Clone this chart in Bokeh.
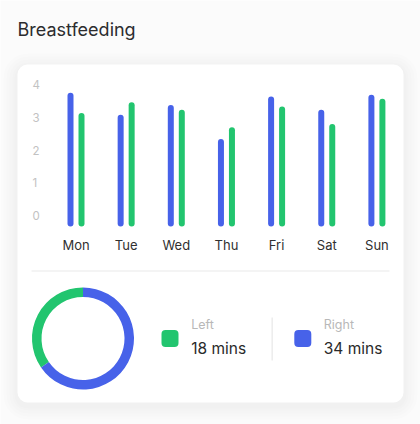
import math
from bokeh.plotting import figure
from bokeh.models import Range1d, ColumnDataSource, BoxAnnotation
from bokeh.core.properties import value
from bokeh.transform import dodge
from bokeh.embed import file_html
from bokeh.resources import INLINE

# ---- data ----
days = ["Mon", "Tue", "Wed", "Thu", "Fri", "Sat", "Sun"]
right_vals = [3.90, 3.23, 3.53, 2.49, 3.79, 3.38, 3.84]
left_vals = [3.28, 3.61, 3.38, 2.85, 3.48, 2.95, 3.72]
y_ticks = [0, 1, 2, 3, 4]
sides = ["Left", "Right"]
side_minutes = [18, 34]

BLUE = "#4762E9"
GREEN = "#22C56F"
side_colors = [GREEN, BLUE]

W, H = 420, 424
FONT = value("Inter")

# layout constants (pixels, measured from top-left)
X0_PX, X_STEP = 75.5, 50.15       # centre of first day, spacing
Y0_PX, Y_UNIT = 223.0, 32.75      # baseline of bars, px per unit


def T(y_top):
    return H - y_top


p = figure(width=W, height=H, output_backend="svg", toolbar_location=None,
           x_axis_location=None, y_axis_location=None,
           x_range=Range1d(-X0_PX / X_STEP, (W - X0_PX) / X_STEP),
           y_range=Range1d((Y0_PX - H) / Y_UNIT, Y0_PX / Y_UNIT),
           min_border=0)
p.outline_line_color = None
p.xgrid.visible = False
p.ygrid.visible = False
p.background_fill_color = "#fbfbfb"
p.border_fill_color = "#fbfbfb"
p.extra_x_ranges = {"px": Range1d(0, W)}
p.extra_y_ranges = {"px": Range1d(0, H)}

# ---- card with soft shadow ----
cl, cr, ct, cb = 17, 403, 64, 402
for g in [14, 11, 8, 5, 3]:
    p.add_layout(BoxAnnotation(left=cl - g, right=cr + g, top=T(ct - g + 3), bottom=T(cb + g + 3),
                               fill_color="black", fill_alpha=0.006, line_color=None,
                               border_radius=10 + g, level="underlay",
                               x_range_name="px", y_range_name="px"))
p.add_layout(BoxAnnotation(left=cl, right=cr, top=T(ct), bottom=T(cb),
                           fill_color="white", fill_alpha=1, line_color=None,
                           border_radius=10, level="underlay",
                           x_range_name="px", y_range_name="px"))

# ---- title ----
p.text(x=[17], y=[T(29)], text=["Breastfeeding"], text_font=FONT, text_font_size="18px",
       text_color="#2c2c2e", text_baseline="middle", text_align="left",
       x_range_name="px", y_range_name="px")

# ---- bars ----
src = ColumnDataSource(dict(idx=list(range(len(days))), day=days, right=right_vals, left=left_vals,
                            zero=[0] * len(days)))
off = 5.5 / X_STEP
p.segment(x0=dodge("idx", -off), y0="zero", x1=dodge("idx", -off), y1="right", source=src,
          line_color=BLUE, line_width=6, line_cap="round")
p.segment(x0=dodge("idx", off), y0="zero", x1=dodge("idx", off), y1="left", source=src,
          line_color=GREEN, line_width=6, line_cap="round")

# y tick labels
p.text(x=[32] * len(y_ticks), y=y_ticks, text=[str(t) for t in y_ticks], x_range_name="px",
       y_offset=-8, text_font=FONT, text_font_size="11.5px", text_color="#c2c2c2",
       text_baseline="middle", text_align="left")

# x labels
p.text(x="idx", y=T(244.5), text="day", source=src, y_range_name="px",
       text_font=FONT, text_font_size="13px", text_color="#303030",
       text_baseline="middle", text_align="center")

# separator
p.segment(x0=[31], y0=[T(270.5)], x1=[389], y1=[T(270.5)], line_color="#f1f1f1", line_width=1.5,
          x_range_name="px", y_range_name="px")

# ---- donut ----
total = sum(side_minutes)
starts, ends = [], []
a0 = math.pi / 2
for m in side_minutes:
    a1 = a0 + 2 * math.pi * m / total
    starts.append(a0)
    ends.append(a1)
    a0 = a1
p.annular_wedge(x=[82.5] * 2, y=[T(338)] * 2, inner_radius=41.5, outer_radius=51,
                start_angle=starts, end_angle=ends, fill_color=side_colors, line_color=None,
                x_range_name="px", y_range_name="px")

# ---- legend ----
leg_sq_x = [169.5, 302.3]
leg_txt_x = [190.7, 323.3]
for sx, c in zip(leg_sq_x, side_colors):
    p.add_layout(BoxAnnotation(left=sx - 8.5, right=sx + 8.5, top=T(329.5), bottom=T(346.5),
                               fill_color=c, fill_alpha=1, line_color=None, border_radius=4,
                               x_range_name="px", y_range_name="px"))
p.text(x=leg_txt_x, y=[T(323.5)] * 2, text=sides, text_font=FONT, text_font_size="12.5px",
       text_color="#b8b8b8", text_baseline="middle", text_align="left",
       x_range_name="px", y_range_name="px")
p.text(x=leg_txt_x, y=[T(348)] * 2, text=[f"{m} mins" for m in side_minutes], text_font=FONT,
       text_font_size="15.5px", text_color="#2a2a2a", text_baseline="middle", text_align="left",
       x_range_name="px", y_range_name="px")
p.segment(x0=[271.7], y0=[T(317)], x1=[271.7], y1=[T(360)], line_color="#ececec", line_width=1.5,
          x_range_name="px", y_range_name="px")

open("out.html", "w").write(file_html(p, INLINE))
